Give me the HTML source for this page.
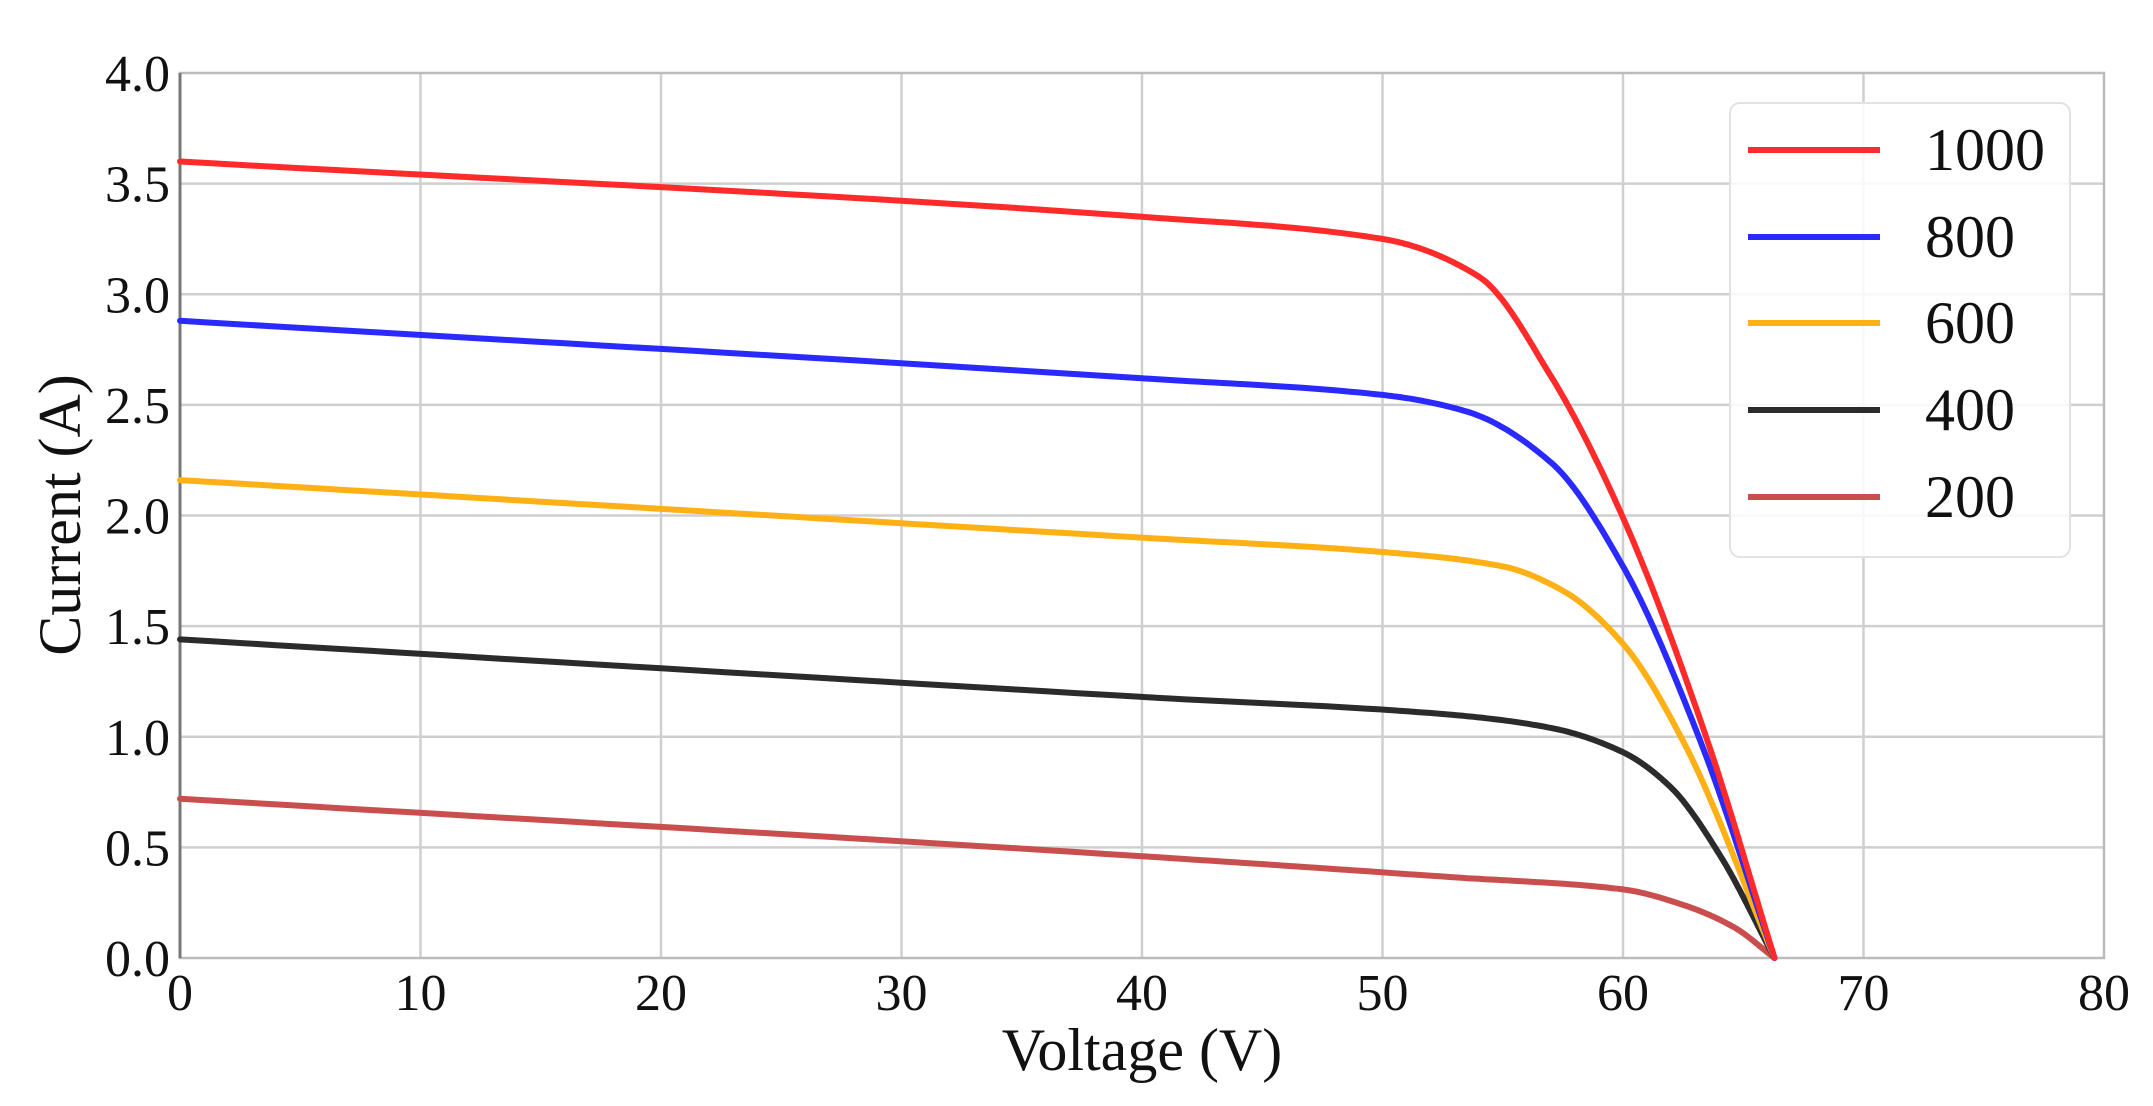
<!DOCTYPE html>
<html><head><meta charset="utf-8"><style>
html,body{margin:0;padding:0;background:#fff}
svg{display:block}
text{font-family:"Liberation Serif",serif;fill:#111}
</style></head><body>
<svg id="s" width="2153" height="1106" viewBox="0 0 2153 1106" xmlns="http://www.w3.org/2000/svg">
<rect width="2153" height="1106" fill="#fff"/>
<g id="grid" stroke="#cfcfcf" stroke-width="2.5"></g>
<rect x="180" y="73" width="1924" height="885" fill="none" stroke="#bbb" stroke-width="2.5"/>
<line x1="180" y1="73" x2="180" y2="958" stroke="#777" stroke-width="3"/>
<g id="ticks" font-size="52"></g>
<text x="1142" y="1070" font-size="60" text-anchor="middle">Voltage (V)</text>
<text transform="translate(80,515) rotate(-90)" font-size="60" text-anchor="middle">Current (A)</text>
<g id="curves" fill="none" stroke-width="6" stroke-linejoin="round" stroke-linecap="round"></g>
<rect x="1730" y="103" width="340" height="454" rx="10" fill="#fff" fill-opacity="0.85" stroke="#e2e2e2" stroke-width="2"/>
<g font-size="60">
<line x1="1748" y1="150" x2="1880" y2="150" stroke="#ff2a2a" stroke-width="6"/><text x="1925" y="170">1000</text>
<line x1="1748" y1="237" x2="1880" y2="237" stroke="#2a2aff" stroke-width="6"/><text x="1925" y="257">800</text>
<line x1="1748" y1="323" x2="1880" y2="323" stroke="#ffb015" stroke-width="6"/><text x="1925" y="343">600</text>
<line x1="1748" y1="410" x2="1880" y2="410" stroke="#2b2b2b" stroke-width="6"/><text x="1925" y="430">400</text>
<line x1="1748" y1="497" x2="1880" y2="497" stroke="#c94f4f" stroke-width="6"/><text x="1925" y="517">200</text>
</g>
</svg>
<script>
var NS="http://www.w3.org/2000/svg";
function X(v){return 180+v*24.05}
function Y(i){return 958-i*221.25}
function el(p,t,a,txt){var e=document.createElementNS(NS,t);for(var k in a)e.setAttribute(k,a[k]);if(txt!=null)e.textContent=txt;p.appendChild(e);return e}
var g=document.getElementById('grid'),tk=document.getElementById('ticks');
for(var v=10;v<=70;v+=10)el(g,'line',{x1:X(v),y1:73,x2:X(v),y2:958});
for(var i=0.5;i<4;i+=0.5)el(g,'line',{x1:180,y1:Y(i),x2:2104,y2:Y(i)});
for(var v=0;v<=80;v+=10)el(tk,'text',{x:X(v),y:1010,'text-anchor':'middle'},String(v));
for(var i=0;i<=8;i++){var val=i*0.5;el(tk,'text',{x:170,y:Y(val)+18,'text-anchor':'end'},val.toFixed(1));}
var data=[
["#c94f4f",[[0,0.72],[40,0.46],[52.8,0.366],[60,0.31],[62.5,0.24],[64.6,0.14],[66.3,0]]],
["#2b2b2b",[[0,1.44],[40,1.18],[52.8,1.10],[57,1.04],[60,0.93],[62,0.77],[64,0.47],[66.3,0]]],
["#ffb015",[[0,2.16],[40,1.9],[50,1.835],[55,1.77],[57.5,1.66],[60,1.42],[62.5,0.98],[66.3,0]]],
["#2a2aff",[[0,2.88],[40,2.62],[50,2.545],[53.5,2.47],[57,2.24],[60,1.77],[63.2,0.985],[66.3,0]]],
["#ff2a2a",[[0,3.6],[40,3.35],[50,3.25],[54,3.08],[57,2.63],[60,1.99],[63.5,0.985],[66.3,0]]]
];
function mono(pts){
 var n=pts.length,xs=pts.map(p=>p[0]),ys=pts.map(p=>p[1]),d=[],m=[];
 for(var k=0;k<n-1;k++)d.push((ys[k+1]-ys[k])/(xs[k+1]-xs[k]));
 m[0]=d[0];m[n-1]=d[n-2];
 for(var k=1;k<n-1;k++){ if(d[k-1]*d[k]<=0)m[k]=0; else { var w1=2*(xs[k+1]-xs[k])+(xs[k]-xs[k-1]),w2=(xs[k+1]-xs[k])+2*(xs[k]-xs[k-1]); m[k]=(w1+w2)/(w1/d[k-1]+w2/d[k]); } }
 var out=[];
 for(var k=0;k<n-1;k++){var h=xs[k+1]-xs[k];
  for(var j=0;j<30;j++){var t=j/30,t2=t*t,t3=t2*t;
   var y=(2*t3-3*t2+1)*ys[k]+(t3-2*t2+t)*h*m[k]+(-2*t3+3*t2)*ys[k+1]+(t3-t2)*h*m[k+1];
   out.push([xs[k]+t*h,y]);}}
 out.push([xs[n-1],ys[n-1]]);return out;
}
var c=document.getElementById('curves');
data.forEach(function(d){
 var p=mono(d[1]);
 el(c,'path',{d:"M"+p.map(q=>X(q[0]).toFixed(1)+","+Y(q[1]).toFixed(1)).join(" L"),stroke:d[0]});
});
</script>
</body></html>
